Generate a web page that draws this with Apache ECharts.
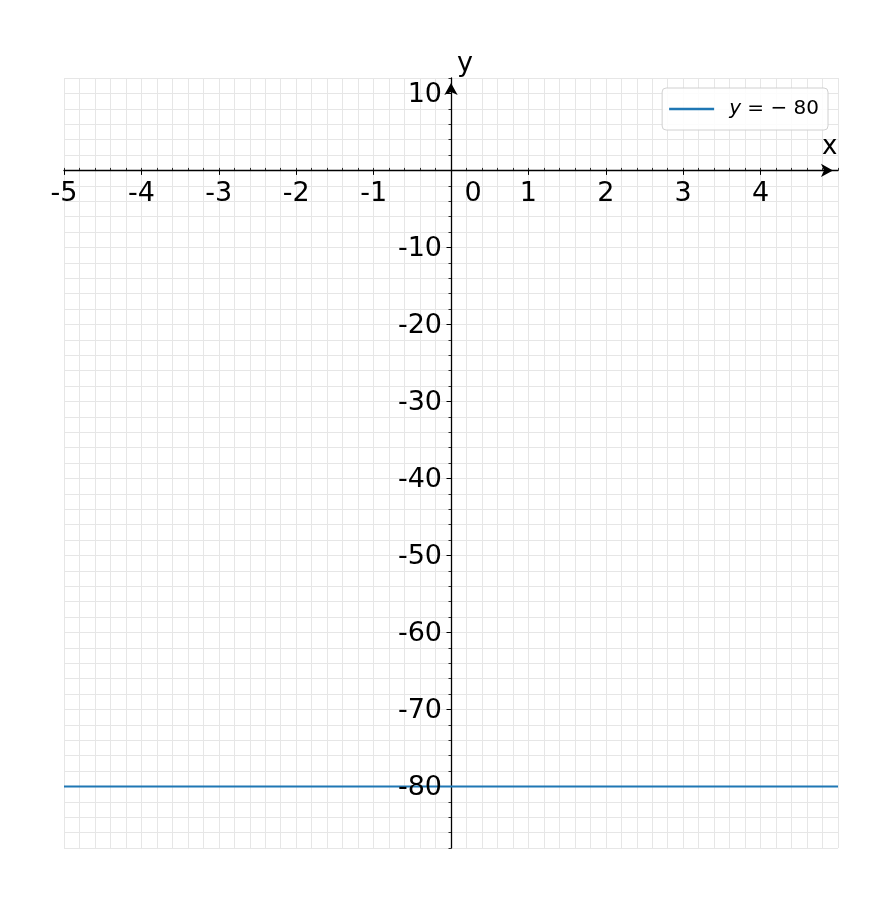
<!DOCTYPE html>
<html>
<head>
<meta charset="utf-8">
<script src="https://cdn.jsdelivr.net/npm/echarts@6/dist/echarts.min.js"></script>
<style>html,body{margin:0;padding:0;background:#fff}#c{width:888px;height:898px}</style>
</head>
<body>
<div id="c"></div>
<script>
// data
const lineX = [-5, 5];
const lineY = [-80, -80];
const seriesName = 'y = −80';
const xTickLabels = [-5, -4, -3, -2, -1, 0, 1, 2, 3, 4];
const xMajorTicks = [-5, -4, -3, -2, -1, 0, 1, 2, 3, 4];
const yTickLabels = [-80, -70, -60, -50, -40, -30, -20, -10, 10];
const yMajorTicks = [-80, -70, -60, -50, -40, -30, -20, -10, 0, 10];
const xRange = [-5, 5];
const yRange = [-88, 12];

const chart = echarts.init(document.getElementById('c'), null, {renderer: 'canvas'});
const FONT = 'DejaVu Sans';
const axisCol = '#000';
const gridCol = '#e6e6e6';
const LABEL_SIZE = 27;

const option = {
  animation: false,
  textStyle: {fontFamily: FONT},
  grid: {left: 64, right: 50, top: 78, bottom: 50, containLabel: false},
  legend: {
    right: 60, top: 88,
    padding: [11, 9, 11, 7],
    itemWidth: 45, itemHeight: 2.5,
    borderColor: '#d0d0d0', borderWidth: 1, borderRadius: 4,
    backgroundColor: 'rgba(255,255,255,0.85)',
    data: [{name: seriesName, icon: 'rect', itemStyle: {color: '#1f77b4'}}],
    formatter: function () { return '{pad|}{i|y}{t| = − 80}'; },
    textStyle: {
      fontFamily: FONT, fontSize: 20, color: '#000',
      rich: {
        pad: {width: 10},
        i: {fontFamily: FONT, fontStyle: 'italic', fontSize: 20, color: '#000'},
        t: {fontFamily: FONT, fontSize: 20, color: '#000'}
      }
    }
  },
  xAxis: [
    {
      type: 'value', min: xRange[0], max: xRange[1], interval: 0.2,
      name: 'x', nameLocation: 'end', nameGap: -16,
      nameTextStyle: {fontFamily: FONT, fontSize: 26, color: '#000', align: 'left', verticalAlign: 'bottom', lineHeight: 46},
      axisLine: {show: true, onZero: true, onZeroAxisIndex: 0, symbol: ['none', 'arrow'], symbolSize: [10, 12], symbolOffset: [0, -5], lineStyle: {color: axisCol, width: 1.3}},
      axisTick: {show: true, inside: false, length: 4.5, customValues: xMajorTicks, lineStyle: {color: axisCol, width: 1}},
      axisLabel: {show: false},
      splitLine: {show: false}
    },
    {
      type: 'value', min: xRange[0], max: xRange[1], interval: 0.2,
      axisLine: {show: true, onZero: true, onZeroAxisIndex: 1, lineStyle: {color: axisCol, opacity: 0}},
      axisTick: {show: true, inside: false, length: 2.5, lineStyle: {color: axisCol, width: 0.8}},
      axisLabel: {show: false},
      splitLine: {show: true, lineStyle: {color: gridCol, width: 1}}
    }
  ],
  yAxis: [
    {
      type: 'value', min: yRange[0], max: yRange[1], interval: 2,
      name: 'y', nameLocation: 'end', nameGap: 1,
      nameTextStyle: {fontFamily: FONT, fontSize: 27, color: '#000', align: 'left', padding: [0, 0, 0, 6]},
      axisLine: {show: true, onZero: true, onZeroAxisIndex: 0, symbol: ['none', 'arrow'], symbolSize: [10, 12], symbolOffset: [0, -5], lineStyle: {color: axisCol, width: 1.3}},
      axisTick: {show: true, inside: false, length: 4.5, customValues: yMajorTicks, lineStyle: {color: axisCol, width: 1}},
      axisLabel: {show: false},
      splitLine: {show: false}
    },
    {
      type: 'value', min: yRange[0], max: yRange[1], interval: 2, position: 'left',
      axisLine: {show: true, onZero: true, onZeroAxisIndex: 1, lineStyle: {color: axisCol, opacity: 0}},
      axisTick: {show: true, inside: false, length: 2.5, lineStyle: {color: axisCol, width: 0.8}},
      axisLabel: {show: false},
      splitLine: {show: true, lineStyle: {color: gridCol, width: 1}}
    }
  ],
  series: [
    {
      name: seriesName, type: 'line', xAxisIndex: 0, yAxisIndex: 0,
      data: lineX.map((x, i) => [x, lineY[i]]),
      showSymbol: false, symbol: 'none',
      lineStyle: {color: '#1f77b4', width: 2}, itemStyle: {color: '#1f77b4'},
      z: 3
    },
    {
      name: 'xTickLabels', type: 'scatter', xAxisIndex: 0, yAxisIndex: 0,
      data: xTickLabels.map(v => [v, 0]),
      symbolSize: 0, silent: true, itemStyle: {color: 'transparent', opacity: 1},
      label: {
        show: true, position: 'bottom', distance: 10, opacity: 1,
        fontFamily: FONT, fontSize: LABEL_SIZE, color: '#000',
        formatter: p => p.value[0] === 0 ? '{o|0}' : String(p.value[0]),
        rich: {o: {fontFamily: FONT, fontSize: LABEL_SIZE, color: '#000', padding: [0, 0, 0, 44]}}
      },
      z: 4
    },
    {
      name: 'yTickLabels', type: 'scatter', xAxisIndex: 0, yAxisIndex: 0,
      data: yTickLabels.map(v => [0, v]),
      symbolSize: 0, silent: true, itemStyle: {color: 'transparent', opacity: 1},
      label: {
        show: true, position: 'left', distance: 9, offset: [0, 2], opacity: 1,
        fontFamily: FONT, fontSize: LABEL_SIZE, color: '#000',
        formatter: p => String(p.value[1])
      },
      z: 4
    }
  ]
};
chart.setOption(option);
</script>
</body>
</html>
